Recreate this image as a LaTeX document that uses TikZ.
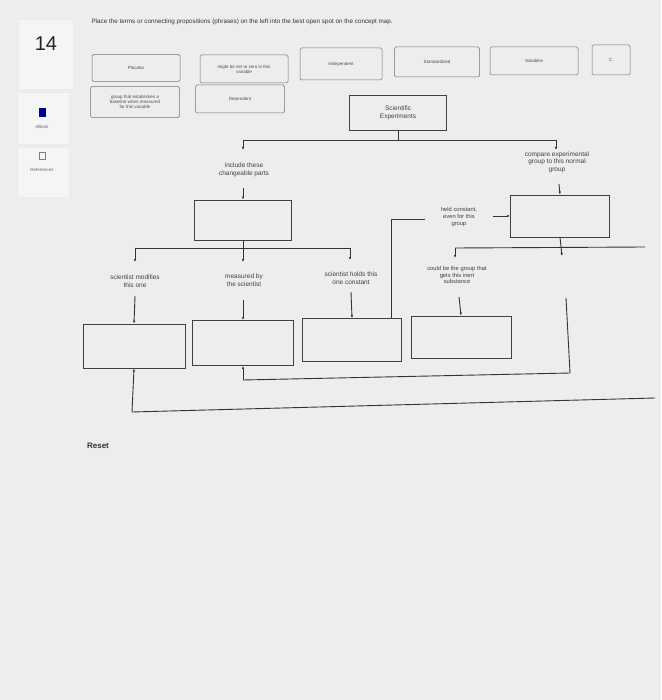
\documentclass[tikz,border=0pt]{standalone}
\usepackage{fontspec}
\setmainfont{Liberation Sans}
\begin{document}
\begin{tikzpicture}[x=1pt,y=-1pt,
  bx/.style={draw=black!75,line width=0.9pt,inner sep=0pt},
  chip/.style={draw=black!55,line width=0.5pt,rounded corners=1.5pt,inner sep=0pt,font=\fontsize{4.5}{5}\selectfont,text=black!70,align=center},
  side/.style={fill=black!4,draw=black!8,inner sep=0pt},
  lbl/.style={font=\fontsize{6.5}{7.5}\selectfont,align=center,text=black!75},
  ln/.style={draw=black!80,line width=0.9pt},
  ar/.style={ln,-{Latex[length=3pt,width=2.5pt]}}]
\usetikzlibrary{arrows.meta}
\fill[black!7] (0,0) rectangle (661,700);
\useasboundingbox (0,0) rectangle (661,700);
% sidebar
\node[side,minimum width=55pt,minimum height=70pt] (s1) at (46,54) {};
\node[font=\fontsize{20}{20}\selectfont,text=black!85] (n14) at (46,44) {14};
\node[side,minimum width=52pt,minimum height=52pt] (s2) at (43,118) {};
\node[fill=blue!60!black,minimum width=7pt,minimum height=9pt,inner sep=0pt] (ebk) at (42,113) {};
\node[font=\fontsize{4.5}{5}\selectfont,text=black!60] (ebt) at (42,127) {eBook};
\node[side,minimum width=52pt,minimum height=50pt] (s3) at (43,172) {};
\node[draw=black!50,minimum width=6pt,minimum height=7pt,inner sep=0pt] (rfi) at (42,156) {};
\node[font=\fontsize{4.5}{5}\selectfont,text=black!60] (rft) at (42,170) {References};
\node[anchor=west,font=\fontsize{6.3}{7}\selectfont,text=black!80] (ins) at (88,22) {Place the terms or connecting propositions (phrases) on the left into the best open spot on the concept map.};
% chips
\node[chip,minimum width=88pt,minimum height=27pt] (c1) at (136,68) {Placebo};
\node[chip,minimum width=88pt,minimum height=28pt] (c2) at (244,69) {might be set to zero in this\\variable};
\node[chip,minimum width=82pt,minimum height=32pt] (c3) at (341,64) {Independent};
\node[chip,minimum width=85pt,minimum height=30pt] (c4) at (437,62) {Standardized};
\node[chip,minimum width=88pt,minimum height=28pt] (c5) at (534,61) {Variables};
\node[chip,minimum width=38pt,minimum height=30pt] (c6) at (611,60) {\hfill C\,};
\node[chip,minimum width=89pt,minimum height=31pt] (c7) at (135,102) {group that establishes a\\baseline when measured\\for this variable};
\node[chip,minimum width=89pt,minimum height=28pt] (c8) at (240,99) {Dependent};
% map
\node[bx,minimum width=97pt,minimum height=35pt,lbl] (se) at (398,113) {Scientific\\Experiments};
\coordinate (j1) at (398,140);
\coordinate (jl) at (243,140);
\coordinate (jr) at (556,140);
\draw[ln] (se.south) -- (j1);
\draw[ln] (jl) -- (jr);
\draw[ar] (jl) -- ++(0,10);
\draw[ar] (jr) -- ++(0,10);
\node[lbl] (t1) at (244,170) {include these\\changeable parts};
\node[lbl] (t2) at (557,162) {compare experimental\\group to this normal\\group};
\node[bx,minimum width=97pt,minimum height=40pt] (b1) at (243,220) {};
\node[bx,minimum width=99pt,minimum height=42pt] (b2) at (560,216) {};
\draw[ar] (243,188) -- (b1.north);
\draw[ar] (559,184) -- (b2.north);
\draw[ln] (135,248) -- (350,248);
\draw[ar] (b1.south) -- (243,262);
\draw[ar] (135,248) -- (135,262);
\draw[ar] (350,248) -- (350,260);
\node[lbl] (t3) at (135,281) {scientist modifies\\this one};
\node[lbl] (t4) at (244,280) {measured by\\the scientist};
\node[lbl] (t5) at (351,278) {scientist holds this\\one constant};
\node[lbl,font=\fontsize{5.8}{6.8}\selectfont] (t6) at (457,275) {could be the group that\\gets this inert\\substance};
\node[lbl,font=\fontsize{5.8}{6.8}\selectfont] (t7) at (459,217) {held constant,\\even for this\\group};
\node[bx,minimum width=102pt,minimum height=44pt] (d1) at (134,346) {};
\node[bx,minimum width=101pt,minimum height=45pt] (d2) at (243,343) {};
\node[bx,minimum width=99pt,minimum height=43pt] (d3) at (352,340) {};
\node[bx,minimum width=100pt,minimum height=42pt] (d4) at (461,337) {};
\draw[ar] (135,296) -- (d1.north);
\draw[ar] (243,300) -- (d2.north);
\draw[ar] (351,292) -- (d3.north);
\draw[ar] (459,297) -- (d4.north);
\draw[ln] (391,318) -- (391,219) -- (425,219);
\draw[ar] (493,216) -- (b2.west);
\draw[ar] (b2.south) -- (562,256);
\draw[ln] (455,248) -- (645,247);
\draw[ar] (455,248) -- (455,258);
\draw[ln] (566,298) -- (570,373) -- (243,380);
\draw[ar] (243,380) -- (d2.south);
\draw[ln] (655,398) -- (132,412);
\draw[ar] (132,412) -- (d1.south);
\node[font=\bfseries\fontsize{8}{9}\selectfont,text=black!80] (rs) at (98,446) {Reset};
\end{tikzpicture}
\end{document}
